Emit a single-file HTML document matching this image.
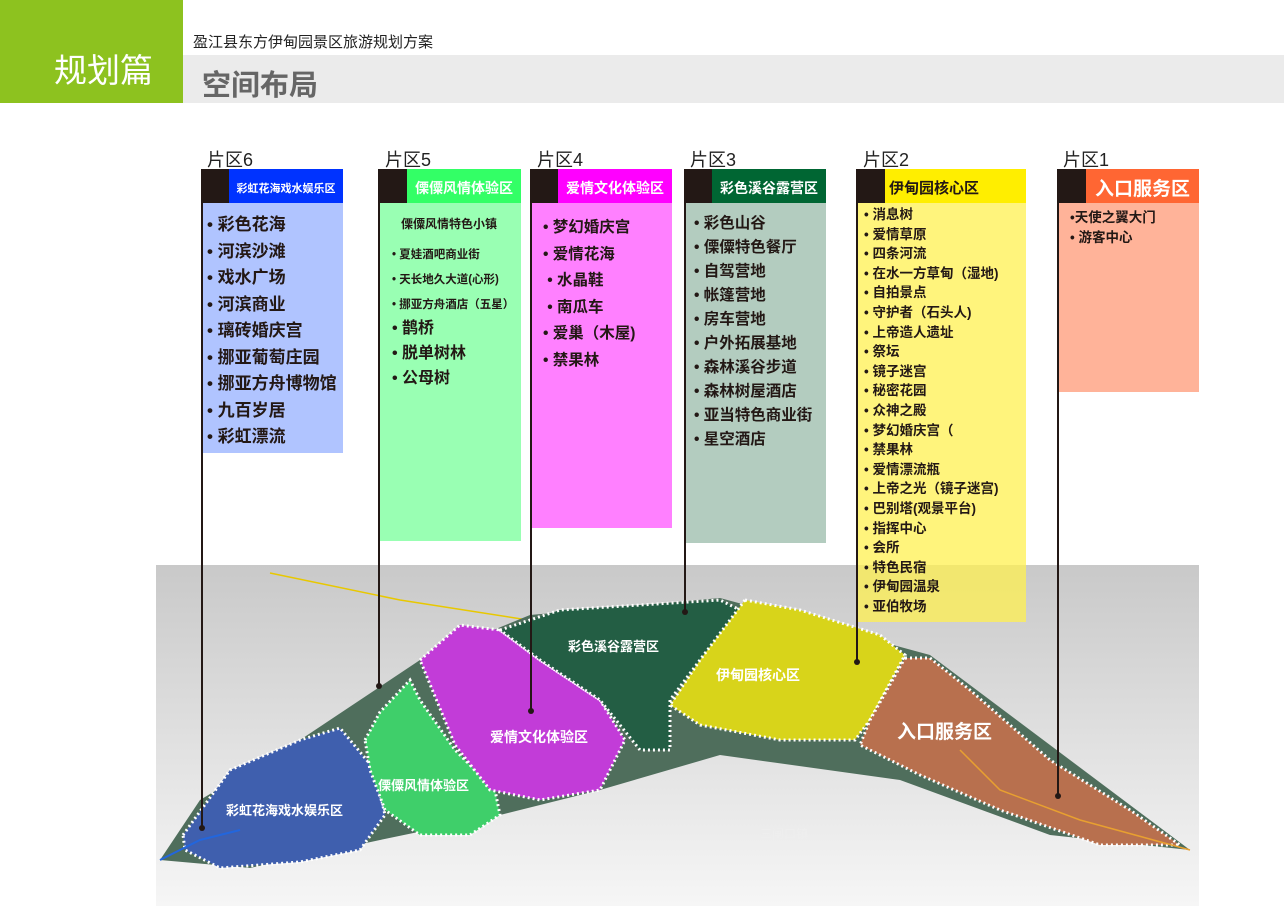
<!DOCTYPE html>
<html><head><meta charset="utf-8"><style>
body{margin:0;width:1284px;height:906px;position:relative;background:#fff;font-family:"Liberation Sans","Noto Sans CJK SC",sans-serif;overflow:hidden}
.a{position:absolute}
.lab{position:absolute;font-size:18px;color:#222;top:146px}
.dk{position:absolute;background:#231815;top:169px;height:34px}
.hd{position:absolute;top:169px;height:34px;display:flex;align-items:center;justify-content:center;font-weight:bold;color:#fff;font-size:14px;padding-top:3px;box-sizing:border-box}
.bd{position:absolute;top:203px;color:#231815;font-weight:bold}
.bd div{white-space:nowrap}
.ln{position:absolute;width:2px;background:#231815;top:169px}
</style></head><body>
<div class="a" style="left:0;top:0;width:183px;height:103px;background:#8dc21f"></div>
<div class="a" style="left:54px;top:44px;font-size:33px;color:#fff">规划篇</div>
<div class="a" style="left:193px;top:31px;font-size:15px;color:#222">盈江县东方伊甸园景区旅游规划方案</div>
<div class="a" style="left:183px;top:55px;width:1101px;height:48px;background:#ebebeb"></div>
<div class="a" style="left:202px;top:62px;font-size:29px;font-weight:bold;color:#666">空间布局</div>

<svg class="a" style="left:0;top:0" width="1284" height="906">
<defs><linearGradient id="g" x1="0" y1="0" x2="0" y2="1"><stop offset="0" stop-color="#c9c9c9"/><stop offset="1" stop-color="#f6f6f6"/></linearGradient></defs>
<rect x="156" y="565" width="1043" height="341" fill="url(#g)"/>
<polyline points="270,573 400,600 560,625" fill="none" stroke="#e8c800" stroke-width="1.5"/>
<polygon points="160,860 200,800 300,740 420,660 530,615 720,598 930,655 1190,850 1050,835 900,780 720,755 600,790 500,815 380,840 250,868" fill="#4f6e5c"/>
<g stroke="#fff" stroke-width="3" stroke-dasharray="2 3">
<polygon points="183,835 230,770 300,740 340,728 375,770 385,815 360,850 300,862 220,868 185,850" fill="#3f5fae"/>
<polygon points="365,740 380,712 410,680 420,700 455,750 495,790 500,815 470,835 420,835 385,810 370,770" fill="#3fcf6a"/>
<polygon points="420,660 460,625 500,630 540,660 600,700 625,740 600,790 540,800 490,790 455,745" fill="#c23cd8"/>
<polygon points="500,630 560,610 640,605 720,600 740,610 700,660 670,700 670,750 640,750 600,700 540,660" fill="#235e44"/>
<polygon points="745,600 800,610 880,635 905,655 870,720 855,740 780,740 700,725 670,705 700,660" fill="#d8d41a"/>
<polygon points="905,658 930,658 970,690 1050,760 1130,810 1180,845 1100,845 1000,810 920,775 860,745 870,720" fill="#b8704e"/>
</g>
<polyline points="160,860 200,840 240,830" fill="none" stroke="#2266dd" stroke-width="2"/>
<polyline points="960,750 1000,790 1080,820 1190,850" fill="none" stroke="#e8a030" stroke-width="1.5"/>
<g font-family="Liberation Sans,Noto Sans CJK SC,sans-serif" font-weight="bold" fill="#fff">
<text x="226" y="815" font-size="13">彩虹花海戏水娱乐区</text>
<text x="378" y="790" font-size="13">傈僳风情体验区</text>
<text x="490" y="742" font-size="14">爱情文化体验区</text>
<text x="568" y="651" font-size="13">彩色溪谷露营区</text>
<text x="716" y="680" font-size="14">伊甸园核心区</text>
<text x="897" y="738" font-size="19">入口服务区</text>
<text x="760" y="838" font-size="12" font-weight="normal" fill="#eee">三闸口镇</text>
</g>
<g fill="#231815"><circle cx="202" cy="828" r="3"/><circle cx="379" cy="686" r="3"/><circle cx="531" cy="711" r="3"/><circle cx="685" cy="612" r="3"/><circle cx="857" cy="662" r="3"/><circle cx="1058" cy="796" r="3"/></g>
</svg>

<div class="lab" style="left:207px">片区6</div>
<div class="lab" style="left:385px">片区5</div>
<div class="lab" style="left:537px">片区4</div>
<div class="lab" style="left:690px">片区3</div>
<div class="lab" style="left:863px">片区2</div>
<div class="lab" style="left:1063px">片区1</div>

<div class="a" style="left:202px;top:203px;width:141px;height:250px;background:#b0c4ff"></div>
<div class="dk" style="left:202px;width:27px"></div>
<div class="hd" style="left:229px;width:114px;background:#0033ff;font-size:11px">彩虹花海戏水娱乐区</div>
<div class="bd" style="left:207px;top:212px;font-size:17px;line-height:26.5px">
<div>• 彩色花海</div><div>• 河滨沙滩</div><div>• 戏水广场</div><div>• 河滨商业</div><div>• 璃砖婚庆宫</div><div>• 挪亚葡萄庄园</div><div>• 挪亚方舟博物馆</div><div>• 九百岁居</div><div>• 彩虹漂流</div></div>
<div class="ln" style="left:201px;height:659px"></div>

<div class="a" style="left:378px;top:203px;width:143px;height:338px;background:#99ffb3"></div>
<div class="dk" style="left:378px;width:29px"></div>
<div class="hd" style="left:407px;width:114px;background:#33ff66">傈僳风情体验区</div>
<div class="bd" style="left:401px;top:215px;font-size:12px">傈僳风情特色小镇</div>
<div class="bd" style="left:392px;top:243px;font-size:11.5px;line-height:25px"><div>• 夏娃酒吧商业街</div><div>• 天长地久大道(心形)</div><div>• 挪亚方舟酒店（五星）</div></div>
<div class="bd" style="left:392px;top:316px;font-size:16px;line-height:25px"><div>• 鹊桥</div><div>• 脱单树林</div><div>• 公母树</div></div>
<div class="ln" style="left:378px;height:517px"></div>

<div class="a" style="left:531px;top:203px;width:141px;height:325px;background:#ff80ff"></div>
<div class="dk" style="left:531px;width:27px"></div>
<div class="hd" style="left:558px;width:114px;background:#ff00ff">爱情文化体验区</div>
<div class="bd" style="left:543px;top:215px;font-size:15.5px;line-height:26.5px"><div>• 梦幻婚庆宫</div><div>• 爱情花海</div><div>&nbsp;• 水晶鞋</div><div>&nbsp;• 南瓜车</div><div>• 爱巢（木屋)</div><div>• 禁果林</div></div>
<div class="ln" style="left:530px;height:542px"></div>

<div class="a" style="left:685px;top:203px;width:141px;height:340px;background:#b3ccbf"></div>
<div class="dk" style="left:685px;width:27px"></div>
<div class="hd" style="left:712px;width:114px;background:#006633">彩色溪谷露营区</div>
<div class="bd" style="left:694px;top:212px;font-size:15.5px;line-height:24px"><div>• 彩色山谷</div><div>• 傈僳特色餐厅</div><div>• 自驾营地</div><div>• 帐篷营地</div><div>• 房车营地</div><div>• 户外拓展基地</div><div>• 森林溪谷步道</div><div>• 森林树屋酒店</div><div>• 亚当特色商业街</div><div>• 星空酒店</div></div>
<div class="ln" style="left:684px;height:443px"></div>

<div class="a" style="left:857px;top:203px;width:169px;height:419px;background:rgba(255,240,80,0.75)"></div>
<div class="dk" style="left:857px;width:28px"></div>
<div class="hd" style="left:885px;width:141px;background:#ffee00;color:#231815;font-size:15px;justify-content:flex-start;padding-left:4px">伊甸园核心区</div>
<div class="bd" style="left:864px;top:205px;font-size:13.5px;line-height:19.6px"><div>• 消息树</div><div>• 爱情草原</div><div>• 四条河流</div><div>• 在水一方草甸（湿地)</div><div>• 自拍景点</div><div>• 守护者（石头人)</div><div>• 上帝造人遗址</div><div>• 祭坛</div><div>• 镜子迷宫</div><div>• 秘密花园</div><div>• 众神之殿</div><div>• 梦幻婚庆宫（</div><div>• 禁果林</div><div>• 爱情漂流瓶</div><div>• 上帝之光（镜子迷宫)</div><div>• 巴别塔(观景平台)</div><div>• 指挥中心</div><div>• 会所</div><div>• 特色民宿</div><div>• 伊甸园温泉</div><div>• 亚伯牧场</div></div>
<div class="ln" style="left:856px;height:493px"></div>

<div class="a" style="left:1058px;top:203px;width:141px;height:189px;background:#ffb399"></div>
<div class="dk" style="left:1058px;width:28px"></div>
<div class="hd" style="left:1086px;width:113px;background:#ff6633;font-size:19px">入口服务区</div>
<div class="bd" style="left:1070px;top:208px;font-size:13.5px;line-height:20px"><div>•天使之翼大门</div><div>• 游客中心</div></div>
<div class="ln" style="left:1057px;height:627px"></div>
</body></html>
